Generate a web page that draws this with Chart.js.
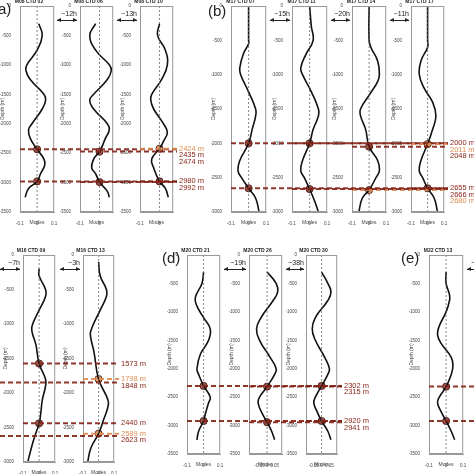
<!DOCTYPE html>
<html>
<head>
<meta charset="utf-8">
<script src="https://cdn.jsdelivr.net/npm/chart.js@4.4.1/dist/chart.umd.min.js"></script>
<style>
  body { margin: 0; background: #fff; font-family: "Liberation Sans", Arial, sans-serif; }
  #wrap { position: relative; width: 474px; height: 474px; overflow: hidden; }
  canvas { position: absolute; }
  .lbl { position: absolute; font-size: 15px; color: #222; }
  .arr { position: absolute; font-size: 7px; color: #222; text-align: right; line-height: 7px; }
  .arr .ln { position: relative; height: 0; border-top: 1px solid #222; margin-top: 3px; }
  .arr .ln:before, .arr .ln:after { content: ''; position: absolute; top: -3px; border-top: 2.5px solid transparent; border-bottom: 2.5px solid transparent; }
  .arr .ln:before { left: 0; border-right: 4px solid #222; }
  .arr .ln:after { right: 0; border-left: 4px solid #222; }
</style>
</head>
<body>
<div id="wrap"></div>
<script>
// ---- data: depth (m) and mode amplitude per CTD profile ----
const depthA1 = [300, 500, 750, 1000, 1100, 1250, 1500, 1600, 1750, 2000, 2100, 2250, 2435, 2600, 2700, 2850, 2980, 3100, 3250];
const modeA1  = [0.01, 0.03, 0.0, -0.06, -0.065, -0.04, 0.04, 0.05, 0.03, -0.03, -0.05, -0.04, 0, 0.04, 0.045, 0.02, 0, -0.05, -0.07];
const depthA2 = [300, 500, 750, 1000, 1100, 1250, 1500, 1600, 1750, 2000, 2100, 2250, 2474, 2600, 2750, 2850, 2992, 3150, 3250];
const modeA2  = [-0.02, -0.05, -0.02, 0.05, 0.06, 0.04, -0.03, -0.05, -0.03, 0.04, 0.05, 0.03, 0, -0.03, -0.04, -0.02, 0, 0.04, 0.05];
const depthA3 = [300, 500, 750, 1000, 1250, 1500, 1600, 1750, 2000, 2150, 2300, 2424, 2600, 2750, 2980, 3100, 3250];
const modeA3  = [0.0, -0.01, 0.03, 0.04, 0.01, -0.04, -0.045, -0.03, 0.02, 0.04, 0.02, 0, -0.04, -0.03, 0, 0.03, 0.045];

const depthB1 = [0, 500, 550, 700, 900, 1000, 1250, 1500, 1600, 1800, 2000, 2250, 2400, 2500, 2655, 2800, 3000];
const modeB1  = [0, 0, 0, -0.03, -0.05, -0.045, 0, 0.04, 0.04, 0.02, 0, -0.05, -0.06, -0.04, 0, 0.04, 0.06];
const depthB2 = [0, 300, 500, 700, 900, 1000, 1250, 1500, 1600, 1800, 2000, 2250, 2400, 2500, 2666, 2850, 3000];
const modeB2  = [0, 0.01, 0.02, -0.02, -0.05, -0.04, 0.01, 0.05, 0.05, 0.02, 0, -0.04, -0.05, -0.03, 0, 0.03, 0.05];
const depthB3 = [0, 500, 600, 800, 1000, 1100, 1300, 1500, 1600, 1800, 2048, 2250, 2400, 2500, 2680, 2800, 3000];
const modeB3  = [0, 0, 0.01, 0.05, 0.06, 0.05, 0, -0.05, -0.05, -0.02, 0, 0.05, 0.06, 0.04, 0, -0.04, -0.06];
const depthB4 = [0, 500, 600, 800, 1000, 1200, 1400, 1600, 1800, 2011, 2250, 2400, 2500, 2655, 2800, 3000];
const modeB4  = [0, 0, 0, -0.04, -0.05, -0.02, 0.03, 0.05, 0.03, 0, -0.04, -0.05, -0.03, 0, 0.04, 0.06];

const depthC1 = [200, 300, 500, 600, 800, 1000, 1100, 1300, 1573, 1800, 1900, 2100, 2300, 2440, 2650, 2900, 3000];
const modeC1  = [0, 0.0, 0.04, 0.04, 0, -0.04, -0.045, -0.02, 0, 0.04, 0.04, 0.02, 0.01, 0, -0.03, -0.06, -0.07];
const depthC2 = [100, 300, 500, 600, 800, 1100, 1200, 1400, 1798, 2100, 2200, 2400, 2589, 2800, 3000];
const modeC2  = [0, 0.01, 0.05, 0.05, 0.01, -0.05, -0.05, -0.03, 0, 0.06, 0.06, 0.03, 0, -0.05, -0.07];

const depthD1 = [300, 500, 750, 900, 1100, 1300, 1500, 1750, 2000, 2100, 2302, 2500, 2600, 2800, 2920, 3100, 3250];
const modeD1  = [0.0, -0.01, -0.05, -0.04, 0, 0.04, 0.03, -0.02, -0.04, -0.03, 0, 0.04, 0.03, 0.01, 0, -0.03, -0.04];
const depthD2 = [300, 500, 650, 800, 1100, 1300, 1500, 1800, 2000, 2100, 2315, 2500, 2600, 2800, 2941, 3100, 3250];
const modeD2  = [0, 0.06, 0.07, 0.04, -0.04, -0.07, -0.05, 0.02, 0.06, 0.05, 0, -0.05, -0.06, -0.03, 0, 0.03, 0.05];
const depthD3 = [300, 500, 650, 800, 1100, 1300, 1500, 1800, 2000, 2100, 2302, 2500, 2600, 2750, 2920, 3100, 3250];
const modeD3  = [0, 0.04, 0.06, 0.04, -0.04, -0.06, -0.04, 0.02, 0.05, 0.04, 0, -0.04, -0.05, -0.03, 0, 0.04, 0.06];

const depthE1 = [300, 500, 700, 800, 1000, 1250, 1400, 1550, 1800, 1950, 2100, 2315, 2500, 2600, 2750, 2920, 3100, 3250];
const modeE1  = [0, 0.0, 0.02, 0.02, 0, -0.04, -0.05, -0.03, 0.03, 0.04, 0.03, 0, -0.04, -0.05, -0.03, 0, 0.03, 0.05];

// crossing depths: [depth, colour kind, panel index that starts the line (-1 = page edge)]
const crossA = [[2424, 'o', 2], [2435, 'r', 0], [2474, 'r', 1], [2980, 'r', 0], [2992, 'r', 1], [2980, 'r', 2]];
const crossB = [[2000, 'r', 0], [2655, 'r', 0], [2011, 'o', 3], [2666, 'r', 1], [2048, 'r', 2], [2680, 'o', 2], [2000, 'r', 1], [2655, 'r', 3]];
const crossC = [[1573, 'r', 0], [2440, 'r', 0], [1798, 'o', 1], [2589, 'o', 1], [1848, 'r', -1], [2623, 'r', -1]];
const crossD = [[2302, 'r', 0], [2920, 'r', 0], [2315, 'r', 1], [2941, 'r', 1], [2302, 'r', 2], [2920, 'r', 2]];
const crossE = [[2315, 'r', 0], [2920, 'r', 0]];

const labelsA = [[2424, 'o'], [2435, 'r'], [2474, 'r'], [2980, 'r'], [2992, 'r']];
const labelsB = [[2000, 'r'], [2011, 'o'], [2048, 'r'], [2655, 'r'], [2666, 'r'], [2680, 'o']];
const labelsC = [[1573, 'r'], [1798, 'o'], [1848, 'r'], [2440, 'r'], [2589, 'o'], [2623, 'r']];
const labelsD = [[2302, 'r'], [2315, 'r'], [2920, 'r'], [2941, 'r']];

const ticksWide = [-0.1, 0, 0.1];
const ticksNarrow = [-0.1, -0.05, 0, 0.05];

const DARK = '#8a2418';
const ORANGE = '#dc8c50';
const wrap = document.getElementById('wrap');

function addCanvas(left, top, w, h) {
    const c = document.createElement('canvas');
    c.width = w; c.height = h;
    c.style.left = left + 'px'; c.style.top = top + 'px';
    wrap.appendChild(c);
    return c;
}

const boxPlugin = {
    id: 'box',
    afterDraw(chart) {
        const a = chart.chartArea, ctx = chart.ctx;
        ctx.save();
        ctx.strokeStyle = '#999';
        ctx.lineWidth = 1;
        ctx.strokeRect(a.left + 0.5, a.top + 0.5, a.width - 1, a.height - 1);
        ctx.restore();
    }
};

// one CTD panel; left/top are the frame position on the page
function makePanel(p) {
    const padL = 20, padT = 7, padB = 14;
    const cv = addCanvas(p.left - padL, p.top - padT, p.w + padL + 2, p.h + padT + padB);
    const profile = p.depth.map((d, i) => ({ x: p.mode[i], y: -d }));
    const marks = p.cross.map(c => ({ x: 0, y: -c[0] }));
    const markCol = p.cross.map(c => c[1] === 'o' ? 'rgba(220,140,80,0.85)' : 'rgba(138,36,24,0.8)');
    const chart = new Chart(cv, {
        type: 'scatter',
        data: {
            datasets: [
                { data: [{ x: 0, y: 0 }, { x: 0, y: p.yMin }], showLine: true, borderColor: '#666', borderWidth: 0.8, borderDash: [2, 2], pointRadius: 0 },
                { data: profile, showLine: true, borderColor: '#111', borderWidth: 1.6, tension: 0.45, pointRadius: 0 },
                { data: marks, pointRadius: 3.6, pointBackgroundColor: markCol, pointBorderColor: '#3a0e08', pointBorderWidth: 0.8 },
                { data: marks, pointStyle: 'crossRot', pointRadius: 2.5, pointBorderColor: '#f3e0d0', pointBorderWidth: 0.8 }
            ]
        },
        options: {
            responsive: false,
            animation: false,
            events: [],
            layout: { padding: { top: 0, right: 1, bottom: 0, left: 0 } },
            plugins: {
                legend: { display: false },
                tooltip: { enabled: false },
                title: { display: true, text: p.title, color: '#222', font: { size: 5, weight: 'bold' }, padding: { top: 0, bottom: 1 } }
            },
            scales: {
                x: {
                    type: 'linear', min: p.xMin, max: p.xMax,
                    afterBuildTicks: s => { s.ticks = p.xTicks.map(v => ({ value: v })); },
                    ticks: { color: '#444', font: { size: 4.5 }, padding: 1, maxRotation: 0, callback: v => String(v) },
                    grid: { display: false }, border: { color: '#999' },
                    title: { display: true, text: 'Modes', color: '#444', font: { size: 5 }, padding: 0 },
                    afterFit: s => { s.height = padB; }
                },
                y: {
                    type: 'linear', min: p.yMin, max: 0,
                    ticks: { stepSize: 500, color: '#444', font: { size: 4.5 }, padding: 1, callback: v => String(v) },
                    grid: { display: false }, border: { color: '#999' },
                    title: { display: true, text: 'Depth (m)', color: '#444', font: { size: 5 }, padding: 0 },
                    afterFit: s => { s.width = padL; }
                }
            }
        },
        plugins: [boxPlugin]
    });
    chart._pageLeft = p.left - padL;
    chart._pageTop = p.top - padT;
    return chart;
}

// dashed crossing lines spanning a group of panels, plus depth labels
function makeOverlay(panels, cross, labels, labelX, yMin) {
    const ref = panels[0];
    const top = ref._pageTop + ref.chartArea.top;
    const h = ref.chartArea.bottom - ref.chartArea.top;
    const cv = addCanvas(0, top, 474, h);
    const endX = labelX === null ? 474 : labelX;
    const datasets = cross.map(c => {
        const startX = c[2] < 0 ? 0 : panels[c[2]]._pageLeft + panels[c[2]].chartArea.left;
        return {
            data: [{ x: startX, y: -c[0] }, { x: endX, y: -c[0] }],
            showLine: true, pointRadius: 0, borderWidth: 2, borderDash: [5, 3],
            borderColor: c[1] === 'o' ? 'rgba(220,140,80,0.9)' : 'rgba(130,34,22,0.9)'
        };
    });
    new Chart(cv, {
        type: 'scatter',
        data: { datasets },
        options: {
            responsive: false, animation: false, events: [],
            layout: { padding: 0 },
            plugins: { legend: { display: false }, tooltip: { enabled: false } },
            scales: {
                x: { type: 'linear', min: 0, max: 474, display: false },
                y: { type: 'linear', min: yMin, max: 0, display: false }
            }
        },
        plugins: [{
            id: 'depthLabels',
            afterDraw(chart) {
                if (!labels) return;
                const ctx = chart.ctx, ys = chart.scales.y, xs = chart.scales.x;
                ctx.save();
                ctx.font = '7.5px "Liberation Sans", Arial';
                ctx.textBaseline = 'middle';
                let lastY = -99;
                labels.forEach(l => {
                    let y = ys.getPixelForValue(-l[0]);
                    if (y - lastY < 6.5) y = lastY + 6.5;
                    lastY = y;
                    ctx.fillStyle = l[1] === 'o' ? ORANGE : DARK;
                    ctx.fillText(l[0] + ' m', xs.getPixelForValue(endX) + 2, y);
                });
                ctx.restore();
            }
        }]
    });
}

function text(cls, s, left, top, width) {
    const d = document.createElement('div');
    d.className = cls; d.innerHTML = s;
    d.style.left = left + 'px'; d.style.top = top + 'px';
    if (width) d.style.width = width + 'px';
    wrap.appendChild(d);
}

// ---- group (a) ----
const a1 = makePanel({ left: 20, top: 6, w: 37, h: 206, yMin: -3500, xMin: -0.1, xMax: 0.1, xTicks: ticksWide, title: 'M08 CTD 02', depth: depthA1, mode: modeA1, cross: [[2435, 'r'], [2980, 'r']] });
const a2 = makePanel({ left: 80, top: 6, w: 36, h: 206, yMin: -3500, xMin: -0.1, xMax: 0.07, xTicks: ticksNarrow, title: 'M08 CTD 06', depth: depthA2, mode: modeA2, cross: [[2474, 'r'], [2992, 'r']] });
const a3 = makePanel({ left: 140, top: 6, w: 36, h: 206, yMin: -3500, xMin: -0.1, xMax: 0.07, xTicks: ticksNarrow, title: 'M08 CTD 10', depth: depthA3, mode: modeA3, cross: [[2424, 'o'], [2980, 'r']] });
makeOverlay([a1, a2, a3], crossA, labelsA, 177, -3500);

// ---- group (b) ----
const b1 = makePanel({ left: 231, top: 6, w: 38, h: 206, yMin: -3000, xMin: -0.1, xMax: 0.1, xTicks: ticksWide, title: 'M17 CTD 07', depth: depthB1, mode: modeB1, cross: [[2000, 'r'], [2655, 'r']] });
const b2 = makePanel({ left: 292, top: 6, w: 38, h: 206, yMin: -3000, xMin: -0.1, xMax: 0.1, xTicks: ticksWide, title: 'M17 CTD 11', depth: depthB2, mode: modeB2, cross: [[2000, 'r'], [2666, 'r']] });
const b3 = makePanel({ left: 352, top: 6, w: 37, h: 206, yMin: -3000, xMin: -0.1, xMax: 0.1, xTicks: ticksWide, title: 'M17 CTD 14', depth: depthB3, mode: modeB3, cross: [[2048, 'r'], [2680, 'o']] });
const b4 = makePanel({ left: 411, top: 6, w: 36, h: 206, yMin: -3000, xMin: -0.1, xMax: 0.1, xTicks: ticksWide, title: 'M17 CTD 17', depth: depthB4, mode: modeB4, cross: [[2011, 'o'], [2655, 'r']] });
makeOverlay([b1, b2, b3, b4], crossB, labelsB, 448, -3000);

// ---- group (c) ----
const c1 = makePanel({ left: 23, top: 255, w: 35, h: 207, yMin: -3000, xMin: -0.1, xMax: 0.1, xTicks: ticksWide, title: 'M16 CTD 09', depth: depthC1, mode: modeC1, cross: [[1573, 'r'], [2440, 'r']] });
const c2 = makePanel({ left: 83, top: 255, w: 34, h: 207, yMin: -3000, xMin: -0.1, xMax: 0.1, xTicks: ticksWide, title: 'M16 CTD 13', depth: depthC2, mode: modeC2, cross: [[1798, 'o'], [2589, 'o']] });
makeOverlay([c1, c2], crossC, labelsC, 119, -3000);

// ---- group (d) ----
const d1 = makePanel({ left: 187, top: 255, w: 36, h: 199, yMin: -3500, xMin: -0.1, xMax: 0.1, xTicks: ticksWide, title: 'M20 CTD 21', depth: depthD1, mode: modeD1, cross: [[2302, 'r'], [2920, 'r']] });
const d2 = makePanel({ left: 249, top: 255, w: 36, h: 199, yMin: -3500, xMin: -0.12, xMax: 0.1, xTicks: [-0.05, 0, 0.05], title: 'M20 CTD 26', depth: depthD2, mode: modeD2, cross: [[2315, 'r'], [2941, 'r']] });
const d3 = makePanel({ left: 306, top: 255, w: 34, h: 199, yMin: -3500, xMin: -0.1, xMax: 0.1, xTicks: [-0.05, 0, 0.05], title: 'M20 CTD 30', depth: depthD3, mode: modeD3, cross: [[2302, 'r'], [2920, 'r']] });
makeOverlay([d1, d2, d3], crossD, labelsD, 342, -3500);

// ---- group (e) ----
const e1 = makePanel({ left: 429, top: 255, w: 37, h: 199, yMin: -3500, xMin: -0.1, xMax: 0.1, xTicks: ticksWide, title: 'M22 CTD 13', depth: depthE1, mode: modeE1, cross: [[2315, 'r'], [2920, 'r']] });
makeOverlay([e1], crossE, null, null, -3500);

// panel letters
text('lbl', 'a)', -2, 0);
text('lbl', '(b)', 208, 2);
text('lbl', '(d)', 162, 249);
text('lbl', '(e)', 401, 249);

// time separation arrows: [label, left, top, width]
const arrows = [['~12h', 57, 10, 20], ['~13h', 117, 10, 20], ['~15h', 270, 10, 20], ['~20h', 331, 10, 19], ['~11h', 390, 10, 19],
                ['~7h', 0, 259, 20], ['~3h', 60, 259, 20], ['~19h', 224, 259, 22], ['~38h', 286, 259, 18], ['~12h', 467, 259, 20]];
arrows.forEach(a => text('arr', a[0] + '<div class="ln"></div>', a[1], a[2], a[3]));
</script>
</body>
</html>
